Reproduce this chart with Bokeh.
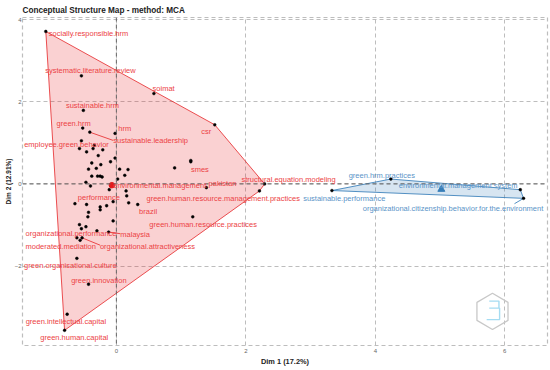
from bokeh.plotting import figure
from bokeh.embed import file_html
from bokeh.resources import INLINE
from bokeh.models import FixedTicker, Span, Label

title_text = "Conceptual Structure Map - method: MCA"
x_title = "Dim 1 (17.2%)"
y_title = "Dim 2 (12.91%)"
x_ticks = [0, 2, 4, 6]
y_ticks = [-2, 0, 2, 4]

red_x = [-1.09,-0.54,0.58,1.52,-0.51,-0.52,-0.41,-0.02,-0.54,-0.57,-0.46,-0.36,-0.34,-0.21,-0.28,-0.02,-0.09,-0.38,-0.24,-0.43,-0.31,0.05,0.18,0.13,0.02,-0.38,-0.29,-0.25,-0.22,-0.47,0.90,1.15,1.15,2.29,-0.40,-0.11,0.15,0.16,1.39,2.21,-0.64,-0.46,-0.25,-0.25,-0.15,-0.05,0.19,0.33,-0.43,-0.44,-0.05,1.18,-0.57,-0.54,-0.47,-0.30,-0.12,-0.61,-0.56,-0.53,-0.61,-0.43,-0.76,-0.80]
red_y = [3.71,2.63,2.20,1.44,1.79,1.36,1.26,1.23,1.05,0.86,0.78,0.86,0.94,0.83,0.69,0.63,0.54,0.51,0.47,0.36,0.38,0.36,0.35,0.21,0.12,0.19,0.19,0.19,0.17,0.04,0.39,0.57,0.54,0.00,-0.05,-0.14,-0.17,-0.29,-0.09,-0.17,-0.48,-0.50,-0.56,-0.63,-0.53,-0.43,-0.46,-0.50,-0.69,-0.80,-0.90,-0.80,-0.99,-1.09,-1.04,-1.14,-1.17,-1.31,-1.37,-1.31,-1.81,-2.44,-3.17,-3.56]
red_centroid = (-0.07, -0.03)

blue_x = [3.33, 4.24, 6.24, 6.29]
blue_y = [-0.16, 0.12, -0.14, -0.35]
blue_centroid = (5.02, -0.13)

red_labels = ["socially.responsible.hrm","systematic.literature.review","soimat","sustainable.hrm","green.hrm","hrm","csr","sustainable.leadership","employee.green.behavior","smes","structural.equation.modeling","environmental.management","pakistan","performance","green.human.resource.management.practices","brazil","green.human.resource.practices","organizational.performance","malaysia","moderated.mediation","organizational.attractiveness","green.organisational.culture","green.innovation","green.intellectual.capital","green.human.capital"]
red_label_x = [-0.43,-0.40,0.73,-0.37,-0.66,0.13,1.39,0.53,-0.77,1.29,2.66,0.67,1.64,-0.27,1.65,0.49,1.34,-0.70,0.29,-0.86,0.48,-0.71,-0.27,-0.78,-0.65]
red_label_y = [3.67,2.76,2.32,1.91,1.48,1.35,1.28,1.06,0.97,0.35,0.10,-0.04,0.02,-0.32,-0.36,-0.67,-0.99,-1.21,-1.24,-1.53,-1.51,-1.99,-2.34,-3.35,-3.73]

blue_labels = ["green.hrm.practices","environmental.management.system","sustainable.performance","organizational.citizenship.behavior.for.the.environment"]
blue_label_x = [4.10,5.28,3.52,5.20]
blue_label_y = [0.21,-0.04,-0.35,-0.60]

red_links_x = [[-0.41,-0.05],[-0.12,0.06],[-0.53,-0.25]]
red_links_y = [[1.26,1.06],[-1.17,-1.21],[-1.31,-1.49]]
blue_links_x = [[6.29,6.15]]
blue_links_y = [[-0.35,-0.48]]

logo_x = [5.81,6.05,6.05,5.81,5.57,5.57]
logo_y = [-2.66,-2.88,-3.32,-3.54,-3.32,-2.88]
logo_b_x = [5.76,5.91,5.91,5.76,5.92,5.92,5.72]
logo_b_y = [-2.85,-2.85,-3.02,-3.02,-3.02,-3.30,-3.30]

RED = "#E41A1C"
BLUE = "#377EB8"
RED_TEXT = "#EC4245"
BLUE_TEXT = "#5A94C8"
FONT = "Liberation Sans"


def hull(xs, ys):
    pts = sorted(set(zip(xs, ys)))
    def cross(o, a, b):
        return (a[0]-o[0])*(b[1]-o[1]) - (a[1]-o[1])*(b[0]-o[0])
    lo = []
    for q in pts:
        while len(lo) >= 2 and cross(lo[-2], lo[-1], q) <= 0:
            lo.pop()
        lo.append(q)
    up = []
    for q in reversed(pts):
        while len(up) >= 2 and cross(up[-2], up[-1], q) <= 0:
            up.pop()
        up.append(q)
    h = lo[:-1] + up[:-1]
    return [a for a, _ in h], [b for _, b in h]


p = figure(width=550, height=370, frame_width=525, frame_height=328,
           x_range=(-1.45, 6.66), y_range=(-3.93, 4.05),
           output_backend="svg", toolbar_location=None,
           min_border_left=22, min_border_right=3, min_border_top=17, min_border_bottom=25)
p.background_fill_color = "white"
p.border_fill_color = "white"
p.outline_line_color = "#BDBDBD"
p.outline_line_dash = "4 3"
p.outline_line_width = 1.2

p.title.text = title_text
p.title.text_font = FONT
p.title.text_font_size = "8.2px"
p.title.text_font_style = "bold"
p.title.text_color = "#222222"
p.title.align = "left"
p.title.offset = 0
p.title.standoff = 5

for ax, ticks in ((p.xaxis[0], x_ticks), (p.yaxis[0], y_ticks)):
    ax.ticker = FixedTicker(ticks=ticks)
    ax.axis_line_color = None
    ax.major_tick_line_color = None
    ax.minor_tick_line_color = None
    ax.major_tick_out = 0
    ax.major_tick_in = 0
    ax.minor_tick_out = 0
    ax.minor_tick_in = 0
    ax.major_label_text_font = FONT
    ax.major_label_text_font_size = "6px"
    ax.major_label_text_color = "#666666"
    ax.major_label_standoff = 3

p.yaxis[0].major_label_standoff = 1
p.yaxis[0].axis_label = y_title
p.yaxis[0].axis_label_text_font = FONT
p.yaxis[0].axis_label_text_font_size = "6.5px"
p.yaxis[0].axis_label_text_font_style = "bold"
p.yaxis[0].axis_label_text_color = "#222222"
p.yaxis[0].axis_label_standoff = 0

p.xaxis[0].axis_label = x_title
p.xaxis[0].axis_label_text_font = FONT
p.xaxis[0].axis_label_text_font_size = "7.4px"
p.xaxis[0].axis_label_text_font_style = "bold"
p.xaxis[0].axis_label_text_color = "#222222"
p.xaxis[0].axis_label_standoff = 1

for g in (p.xgrid[0], p.ygrid[0]):
    g.grid_line_color = "#BDBDBD"
    g.grid_line_dash = "4 3"
    g.grid_line_width = 1
p.xgrid[0].ticker = FixedTicker(ticks=x_ticks)
p.ygrid[0].ticker = FixedTicker(ticks=y_ticks)

hrx, hry = hull(red_x, red_y)
hbx, hby = hull(blue_x, blue_y)
p.patch(hrx, hry, fill_color=RED, fill_alpha=0.2, line_color=RED, line_alpha=0.75, line_width=1)
p.patch(hbx, hby, fill_color=BLUE, fill_alpha=0.2, line_color=BLUE, line_alpha=0.85, line_width=1)

p.add_layout(Span(location=0, dimension="width", line_color="#666666", line_dash="4 3", line_width=1))
p.add_layout(Span(location=0, dimension="height", line_color="#666666", line_dash="4 3", line_width=1))

p.patch(logo_x, logo_y, fill_color=None, line_color="#C8C8C8", line_width=1.3)
p.line(logo_b_x, logo_b_y, line_color="#A5DCF2", line_width=1.4)

p.multi_line(red_links_x, red_links_y, line_color=RED, line_alpha=0.75, line_width=1)
p.multi_line(blue_links_x, blue_links_y, line_color=BLUE, line_alpha=0.85, line_width=1)

p.scatter(red_x, red_y, size=2.8, color="black", line_width=0.5)
p.scatter(blue_x, blue_y, size=2.8, color="black", line_width=0.5)
p.scatter([red_centroid[0]], [red_centroid[1]], size=5.5, color=RED)
p.scatter([blue_centroid[0]], [blue_centroid[1]], size=7, marker="triangle", color=BLUE)

for names, xs, ys, c in ((red_labels, red_label_x, red_label_y, RED_TEXT),
                         (blue_labels, blue_label_x, blue_label_y, BLUE_TEXT)):
    for t, lx, ly in zip(names, xs, ys):
        p.add_layout(Label(x=lx, y=ly, text=t, text_font=FONT, text_font_size="7.5px",
                           text_color=c, text_align="center", text_baseline="middle"))

open("out.html", "w").write(file_html(p, INLINE))
